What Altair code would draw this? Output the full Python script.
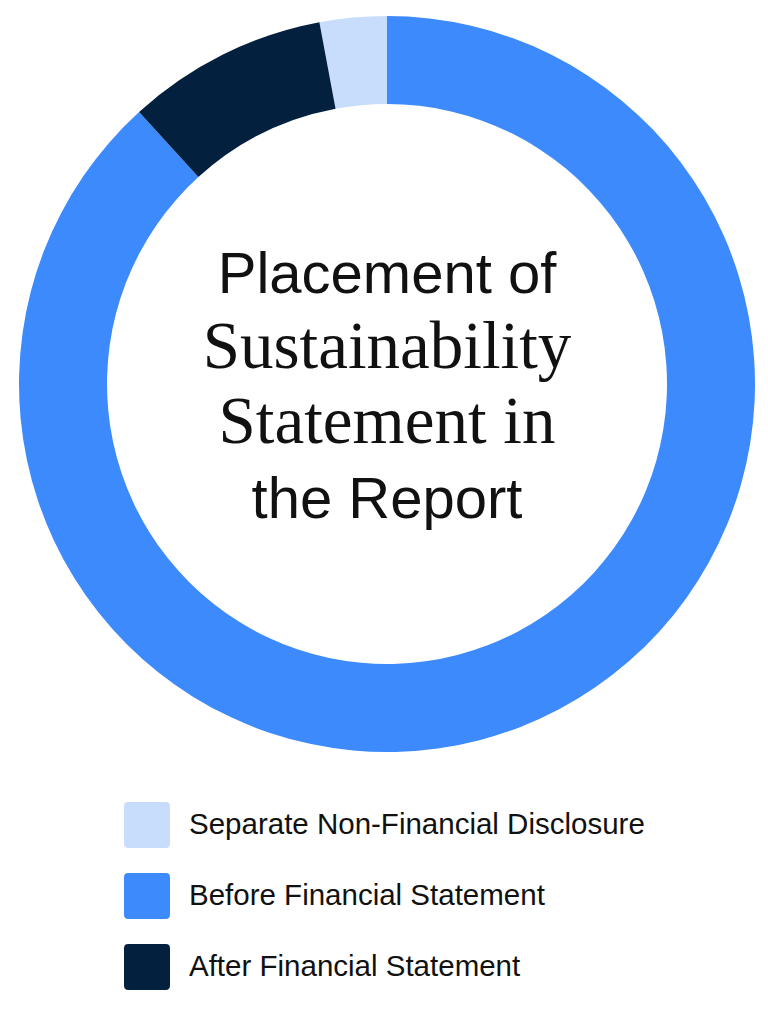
import altair as alt
import pandas as pd

# Data
categories = ["Separate Non-Financial Disclosure", "Before Financial Statement", "After Financial Statement"]
counts = [1, 30, 3]
stack_order = [2, 0, 1]
colors = ["#c8ddfc", "#3c8afc", "#03213f"]

title_lines = ["Placement of", "Sustainability", "Statement in", "the Report"]
title_fonts = ["sans", "serif", "serif", "sans"]

df = pd.DataFrame({"category": categories, "count": counts, "order": stack_order})

W, H = 752, 1014
CX, CY = 379, 376

rounded_square = (
    "M -0.82,-1 L 0.82,-1 Q 1,-1 1,-0.82 L 1,0.82 Q 1,1 0.82,1 "
    "L -0.82,1 Q -1,1 -1,0.82 L -1,-0.82 Q -1,-1 -0.82,-1 Z"
)

arc = alt.Chart(df).mark_arc(outerRadius=368, innerRadius=280).encode(
    theta=alt.Theta("count:Q", stack=True),
    order=alt.Order("order:Q"),
    color=alt.Color(
        "category:N",
        scale=alt.Scale(domain=categories, range=colors),
        sort=categories,
        legend=alt.Legend(
            title=None,
            orient="none",
            legendX=116,
            legendY=794,
            symbolType=rounded_square,
            symbolSize=2116,
            symbolStrokeWidth=0,
            symbolOpacity=1,
            labelFont="Liberation Sans",
            labelFontSize=29.5,
            labelColor="#111111",
            labelOffset=19,
            labelLimit=700,
            rowPadding=25,
            padding=0,
        ),
    ),
    x=alt.value(CX),
    y=alt.value(CY),
)

tdf = pd.DataFrame({"line": title_lines, "font": title_fonts, "idx": list(range(len(title_lines)))})

yscale = alt.Scale(domain=[0, 3], range=[285, 510])

sans_text = alt.Chart(tdf).transform_filter(alt.datum.font == "sans").mark_text(
    font="Liberation Sans", fontSize=58, color="#111111", align="center", baseline="alphabetic"
).encode(
    text="line:N",
    x=alt.value(CX),
    y=alt.Y("idx:Q", scale=yscale, axis=None),
)

serif_text = alt.Chart(tdf).transform_filter(alt.datum.font == "serif").mark_text(
    font="Liberation Serif", fontSize=67, color="#111111", align="center", baseline="alphabetic"
).encode(
    text="line:N",
    x=alt.value(CX),
    y=alt.Y("idx:Q", scale=yscale, axis=None),
)

chart = alt.layer(arc, sans_text, serif_text).properties(
    width=W, height=H, padding=0, autosize=alt.AutoSizeParams(type="none")
).configure(background="white").configure_view(stroke=None)

chart.save("out.html", embed_options={"renderer": "svg", "actions": False})
